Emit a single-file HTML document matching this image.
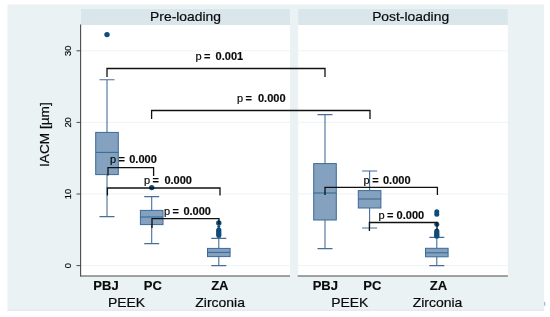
<!DOCTYPE html><html><head><meta charset="utf-8"><title>IACM boxplot</title>
<style>html,body{margin:0;padding:0;background:#fff}svg{display:block}text{font-family:"Liberation Sans",Arial,sans-serif;fill:#0a0a0a}.r{stroke:#0a0a0a;stroke-width:.2}.b{stroke:#0a0a0a;stroke-width:.15}</style></head><body>
<svg width="550" height="317" viewBox="0 0 550 317">
<rect width="550" height="317" fill="#fff"/>
<rect x="7.4" y="4.4" width="536.7" height="305.4" fill="#eaf2f3"/>
<rect x="7.4" y="309.6" width="536.7" height="1.2" fill="#dfe3f6"/>
<rect x="544.2" y="301.8" width="1" height="4" fill="#7fb0e0"/>
<rect x="81" y="9" width="209.0" height="16" fill="#d9e6eb"/>
<rect x="81" y="25" width="209.0" height="251" fill="#fff"/>
<line x1="81" x2="290" y1="50.8" y2="50.8" stroke="#e9f0f2" stroke-width="0.8"/>
<line x1="81" x2="290" y1="122.4" y2="122.4" stroke="#e9f0f2" stroke-width="0.8"/>
<line x1="81" x2="290" y1="194" y2="194" stroke="#e9f0f2" stroke-width="0.8"/>
<line x1="81" x2="290" y1="265.6" y2="265.6" stroke="#e9f0f2" stroke-width="0.8"/>
<line x1="80.5" x2="290" y1="276" y2="276" stroke="#4a4a4a" stroke-width="1.2"/>
<rect x="298.2" y="9" width="209.6" height="16" fill="#d9e6eb"/>
<rect x="298.2" y="25" width="209.6" height="251" fill="#fff"/>
<line x1="298.2" x2="507.8" y1="50.8" y2="50.8" stroke="#e9f0f2" stroke-width="0.8"/>
<line x1="298.2" x2="507.8" y1="122.4" y2="122.4" stroke="#e9f0f2" stroke-width="0.8"/>
<line x1="298.2" x2="507.8" y1="194" y2="194" stroke="#e9f0f2" stroke-width="0.8"/>
<line x1="298.2" x2="507.8" y1="265.6" y2="265.6" stroke="#e9f0f2" stroke-width="0.8"/>
<line x1="297.7" x2="507.8" y1="276" y2="276" stroke="#4a4a4a" stroke-width="1.2"/>
<line x1="80.6" x2="80.6" y1="24.5" y2="276.6" stroke="#4a4a4a" stroke-width="1.1"/>
<line x1="76.5" x2="80.6" y1="50.8" y2="50.8" stroke="#4a4a4a" stroke-width="1"/>
<text transform="translate(70.5,50.8) rotate(-90) scale(1.05,1)" text-anchor="middle" font-size="8.9" class="r">30</text>
<line x1="76.5" x2="80.6" y1="122.4" y2="122.4" stroke="#4a4a4a" stroke-width="1"/>
<text transform="translate(70.5,122.4) rotate(-90) scale(1.05,1)" text-anchor="middle" font-size="8.9" class="r">20</text>
<line x1="76.5" x2="80.6" y1="194" y2="194" stroke="#4a4a4a" stroke-width="1"/>
<text transform="translate(70.5,194) rotate(-90) scale(1.05,1)" text-anchor="middle" font-size="8.9" class="r">10</text>
<line x1="76.5" x2="80.6" y1="265.6" y2="265.6" stroke="#4a4a4a" stroke-width="1"/>
<text transform="translate(70.5,265.6) rotate(-90) scale(1.05,1)" text-anchor="middle" font-size="8.9" class="r">0</text>
<text transform="translate(48.6,134.6) rotate(-90) scale(1.05,1)" text-anchor="middle" font-size="13.0" class="r">IACM [µm]</text>
<text transform="translate(185.5,20.7) scale(1.05,1)" text-anchor="middle" font-size="13.2" class="r">Pre-loading</text>
<text transform="translate(410.6,20.7) scale(1.05,1)" text-anchor="middle" font-size="13.2" class="r">Post-loading</text>
<path d="M107 79.8V132.4M107 174.6V216.6M99.5 79.8h15M99.5 216.6h15" stroke="#456f98" stroke-width="1.1" fill="none"/>
<rect x="95.7" y="132.4" width="22.6" height="42.2" fill="#84a2bf" stroke="#3b6a96" stroke-width="1"/>
<line x1="95.7" x2="118.3" y1="152.4" y2="152.4" stroke="#3b6a96" stroke-width="1.1"/>
<circle cx="107" cy="34.6" r="2.7" fill="#0e4c7c"/>
<path d="M151.7 196.6V210.4M151.7 224.6V243.6M144.2 196.6h15M144.2 243.6h15" stroke="#456f98" stroke-width="1.1" fill="none"/>
<rect x="140.4" y="210.4" width="22.6" height="14.2" fill="#84a2bf" stroke="#3b6a96" stroke-width="1"/>
<line x1="140.4" x2="163.0" y1="217" y2="217" stroke="#3b6a96" stroke-width="1.1"/>
<circle cx="151.7" cy="187.6" r="2.7" fill="#0e4c7c"/>
<path d="M218.8 238.4V248.4M218.8 256.6V265.6M211.3 238.4h15M211.3 265.6h15" stroke="#456f98" stroke-width="1.1" fill="none"/>
<rect x="207.5" y="248.4" width="22.6" height="8.2" fill="#84a2bf" stroke="#3b6a96" stroke-width="1"/>
<line x1="207.5" x2="230.1" y1="252.4" y2="252.4" stroke="#3b6a96" stroke-width="1.1"/>
<circle cx="218.8" cy="222.9" r="2.7" fill="#0e4c7c"/>
<circle cx="218.8" cy="226.6" r="1.5" fill="#0e4c7c"/>
<circle cx="218.8" cy="229.9" r="2.5" fill="#0e4c7c"/>
<circle cx="218.8" cy="230.8" r="2.5" fill="#0e4c7c"/>
<circle cx="218.8" cy="232" r="2.5" fill="#0e4c7c"/>
<circle cx="218.8" cy="233.2" r="2.5" fill="#0e4c7c"/>
<circle cx="218.8" cy="234.4" r="2.5" fill="#0e4c7c"/>
<circle cx="218.8" cy="235.4" r="2.5" fill="#0e4c7c"/>
<path d="M325 114.6V163.6M325 220V248.6M317.5 114.6h15M317.5 248.6h15" stroke="#456f98" stroke-width="1.1" fill="none"/>
<rect x="313.7" y="163.6" width="22.6" height="56.4" fill="#84a2bf" stroke="#3b6a96" stroke-width="1"/>
<line x1="313.7" x2="336.3" y1="193" y2="193" stroke="#3b6a96" stroke-width="1.1"/>
<path d="M369.6 171V190.6M369.6 208V228M362.1 171h15M362.1 228h15" stroke="#456f98" stroke-width="1.1" fill="none"/>
<rect x="358.3" y="190.6" width="22.6" height="17.4" fill="#84a2bf" stroke="#3b6a96" stroke-width="1"/>
<line x1="358.3" x2="380.9" y1="199" y2="199" stroke="#3b6a96" stroke-width="1.1"/>
<path d="M436.8 237.4V248.3M436.8 256.8V265.6M429.3 237.4h15M429.3 265.6h15" stroke="#456f98" stroke-width="1.1" fill="none"/>
<rect x="425.5" y="248.3" width="22.6" height="8.5" fill="#84a2bf" stroke="#3b6a96" stroke-width="1"/>
<line x1="425.5" x2="448.1" y1="252.8" y2="252.8" stroke="#3b6a96" stroke-width="1.1"/>
<circle cx="436.8" cy="211.7" r="2.5" fill="#0e4c7c"/>
<circle cx="436.8" cy="214.3" r="2.5" fill="#0e4c7c"/>
<circle cx="436.8" cy="224.3" r="2.5" fill="#0e4c7c"/>
<circle cx="436.8" cy="230.9" r="2.5" fill="#0e4c7c"/>
<circle cx="436.8" cy="232" r="2.5" fill="#0e4c7c"/>
<circle cx="436.8" cy="233.2" r="2.5" fill="#0e4c7c"/>
<circle cx="436.8" cy="234.4" r="2.5" fill="#0e4c7c"/>
<circle cx="436.8" cy="235.5" r="2.5" fill="#0e4c7c"/>
<circle cx="436.8" cy="236.3" r="2.5" fill="#0e4c7c"/>
<path d="M107 77V68.5H325V77" fill="none" stroke="#111" stroke-width="1.3" stroke-linejoin="miter"/>
<path d="M151.6 119V110.5H370V119" fill="none" stroke="#111" stroke-width="1.3" stroke-linejoin="miter"/>
<path d="M108 175.5V167.6H153.6V176" fill="none" stroke="#111" stroke-width="1.3" stroke-linejoin="miter"/>
<path d="M107.4 195.6V188H220V195.6" fill="none" stroke="#111" stroke-width="1.3" stroke-linejoin="miter"/>
<path d="M152 228V218.6H219V224" fill="none" stroke="#111" stroke-width="1.3" stroke-linejoin="miter"/>
<path d="M325 195V187.4H437.4V195" fill="none" stroke="#111" stroke-width="1.3" stroke-linejoin="miter"/>
<path d="M369.4 231V222.5H437V230" fill="none" stroke="#111" stroke-width="1.3" stroke-linejoin="miter"/>
<text transform="translate(195.4,59.7) scale(1.05,1)" text-anchor="start" font-size="10.5" class="r">p</text>
<text transform="translate(204.0,59.7) scale(1.05,1)" text-anchor="start" font-size="10.5" font-weight="bold" class="b">=</text>
<text transform="translate(215.6,59.7) scale(1.05,1)" text-anchor="start" font-size="10.5" font-weight="bold" class="b">0.001</text>
<text transform="translate(237,102.1) scale(1.05,1)" text-anchor="start" font-size="10.5" class="r">p</text>
<text transform="translate(245.6,102.1) scale(1.05,1)" text-anchor="start" font-size="10.5" font-weight="bold" class="b">=</text>
<text transform="translate(258.0,102.1) scale(1.05,1)" text-anchor="start" font-size="10.5" font-weight="bold" class="b">0.000</text>
<text transform="translate(110,163.1) scale(1.05,1)" text-anchor="start" font-size="10.5" class="r">p</text>
<text transform="translate(118.6,163.1) scale(1.05,1)" text-anchor="start" font-size="10.5" font-weight="bold" class="b">=</text>
<text transform="translate(129.2,163.1) scale(1.05,1)" text-anchor="start" font-size="10.5" font-weight="bold" class="b">0.000</text>
<text transform="translate(144,183.7) scale(1.05,1)" text-anchor="start" font-size="10.5" class="r">p</text>
<text transform="translate(152.6,183.7) scale(1.05,1)" text-anchor="start" font-size="10.5" font-weight="bold" class="b">=</text>
<text transform="translate(164.4,183.7) scale(1.05,1)" text-anchor="start" font-size="10.5" font-weight="bold" class="b">0.000</text>
<text transform="translate(164,214.5) scale(1.05,1)" text-anchor="start" font-size="10.5" class="r">p</text>
<text transform="translate(172.6,214.5) scale(1.05,1)" text-anchor="start" font-size="10.5" font-weight="bold" class="b">=</text>
<text transform="translate(183.4,214.5) scale(1.05,1)" text-anchor="start" font-size="10.5" font-weight="bold" class="b">0.000</text>
<text transform="translate(363.6,183.5) scale(1.05,1)" text-anchor="start" font-size="10.5" class="r">p</text>
<text transform="translate(372.20000000000005,183.5) scale(1.05,1)" text-anchor="start" font-size="10.5" font-weight="bold" class="b">=</text>
<text transform="translate(383.0,183.5) scale(1.05,1)" text-anchor="start" font-size="10.5" font-weight="bold" class="b">0.000</text>
<text transform="translate(378.4,219.1) scale(1.05,1)" text-anchor="start" font-size="10.5" class="r">p</text>
<text transform="translate(387.0,219.1) scale(1.05,1)" text-anchor="start" font-size="10.5" font-weight="bold" class="b">=</text>
<text transform="translate(396.6,219.1) scale(1.05,1)" text-anchor="start" font-size="10.5" font-weight="bold" class="b">0.000</text>
<text transform="translate(106,289.6) scale(1.05,1)" text-anchor="middle" font-size="12.4" font-weight="bold" class="b">PBJ</text>
<text transform="translate(152.9,289.6) scale(1.05,1)" text-anchor="middle" font-size="12.4" font-weight="bold" class="b">PC</text>
<text transform="translate(219.8,289.6) scale(1.05,1)" text-anchor="middle" font-size="12.4" font-weight="bold" class="b">ZA</text>
<text transform="translate(325.3,289.6) scale(1.05,1)" text-anchor="middle" font-size="12.4" font-weight="bold" class="b">PBJ</text>
<text transform="translate(372.3,289.6) scale(1.05,1)" text-anchor="middle" font-size="12.4" font-weight="bold" class="b">PC</text>
<text transform="translate(438.5,289.6) scale(1.05,1)" text-anchor="middle" font-size="12.4" font-weight="bold" class="b">ZA</text>
<text transform="translate(126.5,306.6) scale(1.05,1)" text-anchor="middle" font-size="13.3" class="r">PEEK</text>
<text transform="translate(220.1,306.6) scale(1.05,1)" text-anchor="middle" font-size="13.3" class="r">Zirconia</text>
<text transform="translate(349.8,306.6) scale(1.05,1)" text-anchor="middle" font-size="13.3" class="r">PEEK</text>
<text transform="translate(437.5,306.6) scale(1.05,1)" text-anchor="middle" font-size="13.3" class="r">Zirconia</text>
</svg></body></html>
